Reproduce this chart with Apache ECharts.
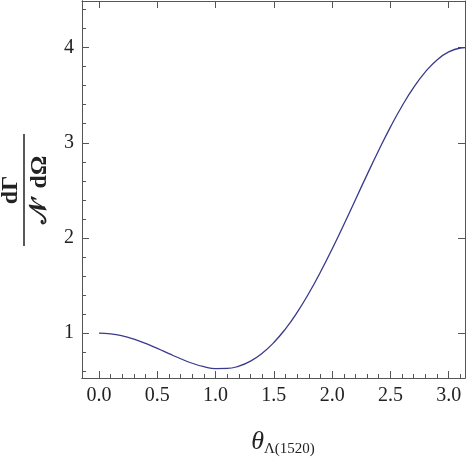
<!DOCTYPE html><html><head><meta charset="utf-8">
<script src="https://cdn.jsdelivr.net/npm/echarts@6/dist/echarts.min.js"></script>
<style>html,body{margin:0;padding:0;background:#fff}#c{width:474px;height:475px}</style></head><body><div id="c"></div>
<script>
const thetaValues=[0,0.1,0.2,0.3,0.4,0.5,0.6,0.7,0.8,0.9,1.0,1.1,1.2,1.3,1.4,1.5,1.6,1.7,1.8,1.9,2.0,2.1,2.2,2.3,2.4,2.5,2.6,2.7,2.8,2.9,3.0,3.1,3.1416];
const rateValues=[1.0,0.9926,0.9708,0.9359,0.891,0.8389,0.7837,0.7302,0.683,0.6472,0.6274,0.6282,0.6534,0.706,0.7884,0.9014,1.0451,1.2181,1.4182,1.6418,1.8839,2.1394,2.4023,2.6654,2.9217,3.1644,3.3868,3.5823,3.7449,3.8708,3.9552,3.996,4.0];
const xTicks=[0,0.5,1.0,1.5,2.0,2.5,3.0];
const xMinor=[0.1,0.2,0.3,0.4,0.6,0.7,0.8,0.9,1.1,1.2,1.3,1.4,1.6,1.7,1.8,1.9,2.1,2.2,2.3,2.4,2.6,2.7,2.8,2.9,3.1];
const yTicks=[1,2,3,4];
const yMinor=[0.6,0.8,1.2,1.4,1.6,1.8,2.2,2.4,2.6,2.8,3.2,3.4,3.6,3.8,4.2,4.4];
const data=thetaValues.map((t,i)=>[t,rateValues[i]]);
const font='"Liberation Serif", serif';
const ax=(common)=>Object.assign({axisLine:{show:true,onZero:false,lineStyle:{color:'#555',width:1}},splitLine:{show:false},axisTick:{inside:true,length:7,lineStyle:{color:'#555'}},minorTick:{show:false}},common);
const chart=echarts.init(document.getElementById('c'));
chart.setOption({
 animation:false,
 grid:{left:82,right:9,top:1,bottom:97},
 xAxis:[
  ax({type:'value',min:-0.146,max:3.14,position:'bottom',axisTick:{inside:true,length:7,customValues:xTicks,lineStyle:{color:'#555'}},axisLabel:{customValues:xTicks,formatter:v=>v.toFixed(1),fontFamily:font,fontSize:20,color:'#222',margin:8}}),
  ax({type:'value',min:-0.146,max:3.14,position:'top',axisTick:{inside:true,length:7,customValues:xTicks,lineStyle:{color:'#555'}},axisLabel:{show:false}}),
  ax({type:'value',min:-0.146,max:3.14,position:'bottom',axisTick:{inside:true,length:4,customValues:xMinor,lineStyle:{color:'#555'}},axisLabel:{show:false}}),
 ],
 yAxis:[
  ax({type:'value',min:0.528,max:4.49,position:'left',axisTick:{inside:true,length:7,customValues:yTicks,lineStyle:{color:'#555'}},axisLabel:{customValues:yTicks,fontFamily:font,fontSize:20,color:'#222',margin:8}}),
  ax({type:'value',min:0.528,max:4.49,position:'right',axisTick:{inside:true,length:7,customValues:yTicks,lineStyle:{color:'#555'}},axisLabel:{show:false}}),
  ax({type:'value',min:0.528,max:4.49,position:'left',axisTick:{inside:true,length:4,customValues:yMinor,lineStyle:{color:'#555'}},axisLabel:{show:false}}),
 ],
 series:[{type:'line',data:data,smooth:true,symbol:'none',lineStyle:{color:'#3a3a8c',width:1.3}}],
 graphic:[
  {type:'text',x:11,y:190,rotation:Math.PI/2,style:{text:'dΓ',font:'bold 24px "Liberation Serif", serif',fill:'#222',align:'center',verticalAlign:'middle'}},
  {type:'line',shape:{x1:24,y1:134,x2:24,y2:246},style:{stroke:'#222',lineWidth:1.5}},
  {type:'text',x:40,y:190,rotation:Math.PI/2,style:{text:'𝒩′ dΩ',font:'bold 24px "Liberation Serif", serif',fill:'#222',align:'center',verticalAlign:'middle'}},
  {type:'text',x:283,y:442,style:{rich:{a:{fontFamily:font,fontStyle:'italic',fontSize:26,fill:'#222'},b:{fontFamily:font,fontSize:15,fill:'#222',padding:[14,0,0,0]}},text:'{a|θ}{b|Λ(1520)}',align:'center',verticalAlign:'middle'}}
 ]
});
</script></body></html>
